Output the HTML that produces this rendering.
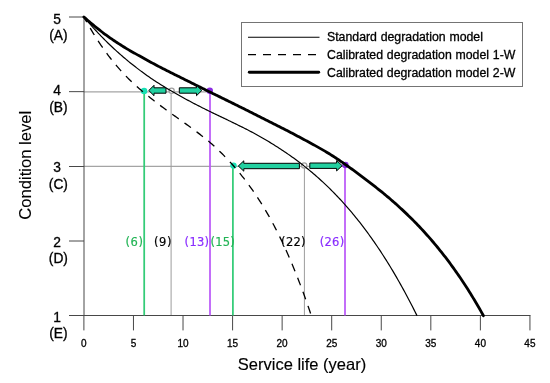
<!DOCTYPE html>
<html><head><meta charset="utf-8"><style>
html,body{margin:0;padding:0;background:#fff;}
svg{display:block;}
text{font-family:"Liberation Sans",sans-serif;fill:#000;stroke:#000;stroke-width:0.3px;}
.v text{font-family:"DejaVu Sans",sans-serif;font-size:11.5px;letter-spacing:0.6px;stroke:#000;stroke-width:0.18px;}
</style></head><body>
<svg width="550" height="383" viewBox="0 0 550 383">
<rect width="550" height="383" fill="#fff"/>
<!-- gridlines -->
<g stroke="#a4a4a4" stroke-width="1.2" fill="none">
<line x1="84" y1="91.9" x2="210" y2="91.9"/>
<line x1="84" y1="166.3" x2="345" y2="166.3"/>
<line x1="171.1" y1="91.6" x2="171.1" y2="315.4" stroke="#9c9c9c" stroke-width="1"/>
<line x1="304.4" y1="166.2" x2="304.4" y2="315.4" stroke="#9c9c9c" stroke-width="1"/>
</g>
<!-- axes -->
<g stroke="#484848" stroke-width="1" fill="none">
<line x1="84" y1="16.5" x2="84" y2="315.4"/>
<line x1="69" y1="315.5" x2="530.3" y2="315.5"/>
<line x1="69" y1="17" x2="84" y2="17"/>
<line x1="69" y1="91.65" x2="84" y2="91.65"/>
<line x1="69" y1="166.5" x2="84" y2="166.5"/>
<line x1="69" y1="241" x2="84" y2="241"/>
<line x1="83.90" y1="315" x2="83.90" y2="330.4"/><line x1="133.46" y1="315" x2="133.46" y2="330.4"/><line x1="183.02" y1="315" x2="183.02" y2="330.4"/><line x1="232.58" y1="315" x2="232.58" y2="330.4"/><line x1="282.14" y1="315" x2="282.14" y2="330.4"/><line x1="331.70" y1="315" x2="331.70" y2="330.4"/><line x1="381.26" y1="315" x2="381.26" y2="330.4"/><line x1="430.82" y1="315" x2="430.82" y2="330.4"/><line x1="480.38" y1="315" x2="480.38" y2="330.4"/><line x1="529.94" y1="315" x2="529.94" y2="330.4"/>
</g>
<!-- vertical colored -->
<g fill="none" stroke-width="1.75">
<line x1="144.2" y1="91.6" x2="144.2" y2="315.4" stroke="#33cc77"/>
<line x1="232.9" y1="166.2" x2="232.9" y2="315.4" stroke="#33cc77"/>
<line x1="210" y1="91.6" x2="210" y2="315.4" stroke="#bb5af8"/>
<line x1="345" y1="166.2" x2="345" y2="315.4" stroke="#bb5af8"/>
</g>
<!-- dots -->
<circle cx="144.1" cy="90.9" r="3.2" fill="#18e0b4"/>
<circle cx="233.5" cy="165.6" r="3.2" fill="#18e0b4"/>
<circle cx="171.6" cy="90.8" r="2.6" fill="#fff" stroke="#a0a0a0" stroke-width="1.3"/>
<circle cx="304.2" cy="165.4" r="2.6" fill="#fff" stroke="#a0a0a0" stroke-width="1.3"/>
<circle cx="209.8" cy="90.8" r="3.2" fill="#8a2be2"/>
<circle cx="345.4" cy="165.0" r="3.2" fill="#8a2be2"/>
<!-- curves -->
<path d="M83.90 17.00 L85.22 18.57 L86.54 20.12 L87.86 21.65 L89.18 23.17 L90.50 24.66 L91.82 26.15 L93.14 27.61 L94.45 29.06 L95.77 30.50 L97.09 31.91 L98.41 33.31 L99.73 34.70 L101.05 36.07 L102.37 37.42 L103.69 38.76 L105.01 40.09 L106.33 41.40 L107.65 42.70 L108.97 43.98 L110.29 45.24 L111.61 46.50 L112.93 47.74 L114.24 48.96 L115.56 50.17 L116.88 51.37 L118.20 52.56 L119.52 53.73 L120.84 54.89 L122.16 56.04 L123.48 57.18 L124.80 58.30 L126.12 59.41 L127.44 60.51 L128.76 61.59 L130.08 62.67 L131.40 63.73 L132.72 64.78 L134.03 65.81 L135.35 66.84 L136.67 67.86 L137.99 68.87 L139.31 69.87 L140.63 70.86 L141.95 71.84 L143.27 72.80 L144.59 73.76 L145.91 74.71 L147.23 75.65 L148.55 76.58 L149.87 77.49 L151.19 78.40 L152.51 79.30 L153.83 80.18 L155.14 81.06 L156.46 81.92 L157.78 82.77 L159.10 83.61 L160.42 84.44 L161.74 85.26 L163.06 86.08 L164.38 86.88 L165.70 87.68 L167.02 88.48 L168.34 89.26 L169.66 90.04 L170.98 90.81 L172.30 91.58 L173.62 92.34 L174.93 93.10 L176.25 93.85 L177.57 94.59 L178.89 95.33 L180.21 96.06 L181.53 96.79 L182.85 97.52 L184.17 98.24 L185.49 98.95 L186.81 99.66 L188.13 100.37 L189.45 101.07 L190.77 101.77 L192.09 102.47 L193.41 103.16 L194.72 103.85 L196.04 104.53 L197.36 105.22 L198.68 105.90 L200.00 106.58 L201.32 107.25 L202.64 107.92 L203.96 108.58 L205.28 109.24 L206.60 109.89 L207.92 110.54 L209.24 111.19 L210.56 111.83 L211.88 112.47 L213.20 113.10 L214.51 113.74 L215.83 114.37 L217.15 115.00 L218.47 115.63 L219.79 116.26 L221.11 116.88 L222.43 117.51 L223.75 118.14 L225.07 118.77 L226.39 119.40 L227.71 120.03 L229.03 120.67 L230.35 121.30 L231.67 121.94 L232.99 122.59 L234.30 123.23 L235.62 123.89 L236.94 124.54 L238.26 125.19 L239.58 125.84 L240.90 126.50 L242.22 127.15 L243.54 127.81 L244.86 128.48 L246.18 129.14 L247.50 129.82 L248.82 130.49 L250.14 131.18 L251.46 131.87 L252.78 132.56 L254.09 133.27 L255.41 133.98 L256.73 134.71 L258.05 135.44 L259.37 136.18 L260.69 136.93 L262.01 137.69 L263.33 138.46 L264.65 139.23 L265.97 140.01 L267.29 140.79 L268.61 141.58 L269.93 142.38 L271.25 143.19 L272.57 144.00 L273.88 144.82 L275.20 145.65 L276.52 146.48 L277.84 147.32 L279.16 148.17 L280.48 149.03 L281.80 149.90 L283.12 150.78 L284.44 151.66 L285.76 152.55 L287.08 153.46 L288.40 154.37 L289.72 155.29 L291.04 156.22 L292.36 157.16 L293.68 158.11 L294.99 159.07 L296.31 160.04 L297.63 161.03 L298.95 162.02 L300.27 163.02 L301.59 164.04 L302.91 165.06 L304.23 166.10 L305.55 167.15 L306.87 168.21 L308.19 169.28 L309.51 170.36 L310.83 171.46 L312.15 172.57 L313.47 173.69 L314.78 174.82 L316.10 175.97 L317.42 177.13 L318.74 178.30 L320.06 179.49 L321.38 180.69 L322.70 181.91 L324.02 183.14 L325.34 184.38 L326.66 185.64 L327.98 186.91 L329.30 188.19 L330.62 189.49 L331.94 190.81 L333.26 192.14 L334.57 193.49 L335.89 194.85 L337.21 196.23 L338.53 197.62 L339.85 199.03 L341.17 200.46 L342.49 201.90 L343.81 203.36 L345.13 204.84 L346.45 206.33 L347.77 207.84 L349.09 209.37 L350.41 210.92 L351.73 212.48 L353.05 214.06 L354.36 215.66 L355.68 217.28 L357.00 218.91 L358.32 220.57 L359.64 222.24 L360.96 223.93 L362.28 225.64 L363.60 227.37 L364.92 229.12 L366.24 230.89 L367.56 232.68 L368.88 234.49 L370.20 236.32 L371.52 238.17 L372.84 240.04 L374.15 241.93 L375.47 243.84 L376.79 245.77 L378.11 247.73 L379.43 249.70 L380.75 251.70 L382.07 253.72 L383.39 255.76 L384.71 257.82 L386.03 259.90 L387.35 262.01 L388.67 264.14 L389.99 266.29 L391.31 268.47 L392.63 270.66 L393.94 272.89 L395.26 275.13 L396.58 277.40 L397.90 279.69 L399.22 282.01 L400.54 284.35 L401.86 286.71 L403.18 289.10 L404.50 291.52 L405.82 293.96 L407.14 296.42 L408.46 298.91 L409.78 301.43 L411.10 303.97 L412.42 306.53 L413.73 309.12 L415.05 311.74 L416.37 314.39 L417.03 315.72" fill="none" stroke="#000" stroke-width="1.2"/>
<path d="M83.90 17.00 L85.22 19.42 L86.54 21.80 L87.86 24.13 L89.18 26.43 L90.50 28.68 L91.82 30.89 L93.14 33.06 L94.45 35.20 L95.77 37.29 L97.09 39.35 L98.41 41.37 L99.73 43.36 L101.05 45.31 L102.37 47.22 L103.69 49.10 L105.01 50.94 L106.33 52.75 L107.65 54.53 L108.97 56.28 L110.29 58.00 L111.61 59.68 L112.93 61.34 L114.24 62.96 L115.56 64.56 L116.88 66.13 L118.20 67.67 L119.52 69.18 L120.84 70.67 L122.16 72.12 L123.48 73.54 L124.80 74.94 L126.12 76.30 L127.44 77.64 L128.76 78.95 L130.08 80.24 L131.40 81.50 L132.72 82.74 L134.03 83.96 L135.35 85.16 L136.67 86.34 L137.99 87.50 L139.31 88.65 L140.63 89.78 L141.95 90.90 L143.27 92.01 L144.59 93.11 L145.91 94.20 L147.23 95.28 L148.55 96.35 L149.87 97.42 L151.19 98.49 L152.51 99.54 L153.83 100.58 L155.14 101.61 L156.46 102.63 L157.78 103.64 L159.10 104.64 L160.42 105.63 L161.74 106.61 L163.06 107.59 L164.38 108.56 L165.70 109.53 L167.02 110.48 L168.34 111.44 L169.66 112.39 L170.98 113.33 L172.30 114.28 L173.62 115.21 L174.93 116.15 L176.25 117.09 L177.57 118.02 L178.89 118.96 L180.21 119.90 L181.53 120.83 L182.85 121.77 L184.17 122.71 L185.49 123.65 L186.81 124.60 L188.13 125.55 L189.45 126.51 L190.77 127.47 L192.09 128.43 L193.41 129.40 L194.72 130.38 L196.04 131.37 L197.36 132.36 L198.68 133.37 L200.00 134.38 L201.32 135.40 L202.64 136.44 L203.96 137.48 L205.28 138.53 L206.60 139.61 L207.92 140.70 L209.24 141.81 L210.56 142.94 L211.88 144.09 L213.20 145.26 L214.51 146.46 L215.83 147.67 L217.15 148.90 L218.47 150.15 L219.79 151.43 L221.11 152.72 L222.43 154.03 L223.75 155.36 L225.07 156.72 L226.39 158.09 L227.71 159.49 L229.03 160.90 L230.35 162.34 L231.67 163.80 L232.99 165.27 L234.30 166.77 L235.62 168.29 L236.94 169.83 L238.26 171.41 L239.58 173.01 L240.90 174.64 L242.22 176.29 L243.54 177.97 L244.86 179.68 L246.18 181.41 L247.50 183.17 L248.82 184.95 L250.14 186.76 L251.46 188.60 L252.78 190.46 L254.09 192.37 L255.41 194.30 L256.73 196.27 L258.05 198.28 L259.37 200.32 L260.69 202.40 L262.01 204.51 L263.33 206.66 L264.65 208.86 L265.97 211.09 L267.29 213.35 L268.61 215.66 L269.93 218.01 L271.25 220.40 L272.57 222.84 L273.88 225.31 L275.20 227.83 L276.52 230.39 L277.84 233.00 L279.16 235.65 L280.48 238.35 L281.80 241.09 L283.12 243.88 L284.44 246.71 L285.76 249.59 L287.08 252.53 L288.40 255.51 L289.72 258.54 L291.04 261.62 L292.36 264.75 L293.68 267.93 L294.99 271.16 L296.31 274.45 L297.63 277.79 L298.95 281.18 L300.27 284.63 L301.59 288.13 L302.91 291.69 L304.23 295.30 L305.55 298.97 L306.87 302.70 L308.19 306.48 L309.51 310.33 L310.83 314.23 L311.27 315.54" fill="none" stroke="#000" stroke-width="1.3" stroke-dasharray="8 7" stroke-dashoffset="2.2"/>
<path d="M83.90 17.00 L85.22 18.17 L86.54 19.33 L87.86 20.48 L89.18 21.61 L90.50 22.73 L91.82 23.83 L93.14 24.92 L94.45 26.00 L95.77 27.07 L97.09 28.12 L98.41 29.17 L99.73 30.21 L101.05 31.24 L102.37 32.26 L103.69 33.27 L105.01 34.26 L106.33 35.24 L107.65 36.20 L108.97 37.14 L110.29 38.06 L111.61 38.95 L112.93 39.84 L114.24 40.73 L115.56 41.60 L116.88 42.47 L118.20 43.33 L119.52 44.19 L120.84 45.04 L122.16 45.88 L123.48 46.72 L124.80 47.54 L126.12 48.34 L127.44 49.13 L128.76 49.91 L130.08 50.67 L131.40 51.42 L132.72 52.17 L134.03 52.91 L135.35 53.64 L136.67 54.37 L137.99 55.11 L139.31 55.84 L140.63 56.58 L141.95 57.32 L143.27 58.05 L144.59 58.78 L145.91 59.51 L147.23 60.24 L148.55 60.96 L149.87 61.68 L151.19 62.40 L152.51 63.11 L153.83 63.82 L155.14 64.53 L156.46 65.23 L157.78 65.93 L159.10 66.62 L160.42 67.31 L161.74 68.00 L163.06 68.68 L164.38 69.36 L165.70 70.03 L167.02 70.70 L168.34 71.37 L169.66 72.03 L170.98 72.69 L172.30 73.35 L173.62 74.00 L174.93 74.66 L176.25 75.31 L177.57 75.96 L178.89 76.61 L180.21 77.27 L181.53 77.92 L182.85 78.57 L184.17 79.22 L185.49 79.88 L186.81 80.53 L188.13 81.19 L189.45 81.85 L190.77 82.51 L192.09 83.17 L193.41 83.83 L194.72 84.49 L196.04 85.15 L197.36 85.81 L198.68 86.47 L200.00 87.12 L201.32 87.77 L202.64 88.43 L203.96 89.08 L205.28 89.73 L206.60 90.39 L207.92 91.04 L209.24 91.69 L210.56 92.34 L211.88 92.99 L213.20 93.64 L214.51 94.29 L215.83 94.94 L217.15 95.59 L218.47 96.23 L219.79 96.88 L221.11 97.53 L222.43 98.18 L223.75 98.83 L225.07 99.48 L226.39 100.13 L227.71 100.78 L229.03 101.43 L230.35 102.08 L231.67 102.73 L232.99 103.38 L234.30 104.03 L235.62 104.68 L236.94 105.33 L238.26 105.99 L239.58 106.64 L240.90 107.29 L242.22 107.95 L243.54 108.60 L244.86 109.26 L246.18 109.92 L247.50 110.57 L248.82 111.23 L250.14 111.89 L251.46 112.55 L252.78 113.22 L254.09 113.88 L255.41 114.54 L256.73 115.21 L258.05 115.88 L259.37 116.54 L260.69 117.21 L262.01 117.88 L263.33 118.55 L264.65 119.22 L265.97 119.88 L267.29 120.55 L268.61 121.22 L269.93 121.88 L271.25 122.55 L272.57 123.22 L273.88 123.89 L275.20 124.55 L276.52 125.22 L277.84 125.89 L279.16 126.56 L280.48 127.23 L281.80 127.91 L283.12 128.58 L284.44 129.26 L285.76 129.93 L287.08 130.61 L288.40 131.29 L289.72 131.98 L291.04 132.66 L292.36 133.35 L293.68 134.04 L294.99 134.74 L296.31 135.44 L297.63 136.14 L298.95 136.84 L300.27 137.55 L301.59 138.25 L302.91 138.96 L304.23 139.67 L305.55 140.38 L306.87 141.09 L308.19 141.80 L309.51 142.51 L310.83 143.23 L312.15 143.95 L313.47 144.67 L314.78 145.39 L316.10 146.13 L317.42 146.86 L318.74 147.60 L320.06 148.35 L321.38 149.10 L322.70 149.87 L324.02 150.63 L325.34 151.41 L326.66 152.20 L327.98 152.99 L329.30 153.80 L330.62 154.61 L331.94 155.44 L333.26 156.28 L334.57 157.13 L335.89 158.00 L337.21 158.88 L338.53 159.76 L339.85 160.66 L341.17 161.56 L342.49 162.47 L343.81 163.39 L345.13 164.31 L346.45 165.24 L347.77 166.17 L349.09 167.11 L350.41 168.04 L351.73 168.99 L353.05 169.95 L354.36 170.91 L355.68 171.89 L357.00 172.88 L358.32 173.87 L359.64 174.86 L360.96 175.87 L362.28 176.87 L363.60 177.88 L364.92 178.88 L366.24 179.89 L367.56 180.90 L368.88 181.90 L370.20 182.90 L371.52 183.90 L372.84 184.91 L374.15 185.93 L375.47 186.95 L376.79 187.99 L378.11 189.03 L379.43 190.08 L380.75 191.14 L382.07 192.20 L383.39 193.28 L384.71 194.37 L386.03 195.46 L387.35 196.57 L388.67 197.68 L389.99 198.81 L391.31 199.94 L392.63 201.08 L393.94 202.24 L395.26 203.40 L396.58 204.58 L397.90 205.76 L399.22 206.96 L400.54 208.17 L401.86 209.39 L403.18 210.62 L404.50 211.86 L405.82 213.11 L407.14 214.38 L408.46 215.66 L409.78 216.95 L411.10 218.25 L412.42 219.56 L413.73 220.89 L415.05 222.23 L416.37 223.59 L417.69 224.96 L419.01 226.34 L420.33 227.74 L421.65 229.15 L422.97 230.57 L424.29 232.01 L425.61 233.47 L426.93 234.94 L428.25 236.42 L429.57 237.92 L430.89 239.44 L432.21 240.97 L433.53 242.52 L434.84 244.08 L436.16 245.67 L437.48 247.26 L438.80 248.88 L440.12 250.51 L441.44 252.17 L442.76 253.84 L444.08 255.52 L445.40 257.23 L446.72 258.96 L448.04 260.70 L449.36 262.46 L450.68 264.25 L452.00 266.05 L453.32 267.87 L454.63 269.72 L455.95 271.58 L457.27 273.47 L458.59 275.38 L459.91 277.30 L461.23 279.26 L462.55 281.23 L463.87 283.22 L465.19 285.24 L466.51 287.29 L467.83 289.35 L469.15 291.44 L470.47 293.55 L471.79 295.69 L473.11 297.86 L474.42 300.04 L475.74 302.26 L477.06 304.50 L478.38 306.77 L479.70 309.06 L481.02 311.38 L482.34 313.72 L483.44 315.70" fill="none" stroke="#000" stroke-width="2.8" stroke-linecap="round"/>
<!-- arrows -->
<g fill="#22d0a0" stroke="#000" stroke-width="1" stroke-linejoin="miter">
<path d="M148.8 90.5 L154 85.3 V87.8 H166 V93.2 H154 V95.7 Z"/>
<path d="M201.8 90.5 L196.5 85.3 V87.8 H179.3 V93.2 H196.5 V95.7 Z"/>
<path d="M238.3 166.0 L243.8 160.8 V163.3 H299.4 V168.7 H243.8 V171.2 Z"/>
<path d="M342.2 165.7 L336.6 160.5 V163.0 H309.8 V168.39999999999998 H336.6 V170.89999999999998 Z"/>
</g>
<!-- legend -->
<rect x="241.5" y="22.5" width="281" height="64" fill="#fff" stroke="#747474" stroke-width="1"/>
<line x1="248" y1="37.2" x2="319.5" y2="37.2" stroke="#000" stroke-width="1.1"/>
<line x1="248" y1="54.6" x2="319.5" y2="54.6" stroke="#000" stroke-width="1.3" stroke-dasharray="8 7"/>
<line x1="249.3" y1="72.2" x2="318.7" y2="72.2" stroke="#000" stroke-width="2.9" stroke-linecap="round"/>
<g font-size="12.3px" style="word-spacing:0.35px">
<text x="327" y="41">Standard degradation model</text>
<text x="327" y="59">Calibrated degradation model 1-W</text>
<text x="327" y="76.5">Calibrated degradation model 2-W</text>
</g>
<!-- y labels -->
<g font-size="13.8px" text-anchor="middle">
<text x="57" y="23.7">5</text><text x="58.4" y="40.3">(A)</text><text x="57" y="95.1">4</text><text x="58.4" y="111.69999999999999">(B)</text><text x="57" y="172.2">3</text><text x="58.4" y="188.79999999999998">(C)</text><text x="57" y="246.8">2</text><text x="58.4" y="263.40000000000003">(D)</text><text x="57" y="321.5">1</text><text x="58.4" y="338.1">(E)</text>
</g>
<g font-size="10px" text-anchor="middle" style="stroke-width:0.4px">
<text x="83.9" y="347">0</text><text x="133.5" y="347">5</text><text x="183.0" y="347">10</text><text x="232.6" y="347">15</text><text x="282.1" y="347">20</text><text x="331.7" y="347">25</text><text x="381.3" y="347">30</text><text x="430.8" y="347">35</text><text x="480.4" y="347">40</text><text x="529.9" y="347">45</text>
</g>
<text x="302" y="369.7" font-size="16.5px" style="stroke-width:0.15px" text-anchor="middle">Service life (year)</text>
<text transform="translate(31.1,165.3) rotate(-90)" font-size="16.6px" style="stroke-width:0.1px" text-anchor="middle">Condition level</text>
<g class="v">
<text x="125.5" y="245.5" style="fill:#22b455;stroke:#22b455">(6)</text>
<text x="154" y="245.5">(9)</text>
<text x="184.6" y="245.5" style="fill:#8a2eff;stroke:#8a2eff;letter-spacing:0.3px">(13)</text>
<text x="210.5" y="245.5" style="fill:#22b455;stroke:#22b455;letter-spacing:0.25px">(15)</text>
<text x="281.1" y="245.5" style="letter-spacing:0.3px">(22)</text>
<text x="319.7" y="245.5" style="fill:#8a2eff;stroke:#8a2eff;letter-spacing:0.3px">(26)</text>
</g>
</svg>
</body></html>
